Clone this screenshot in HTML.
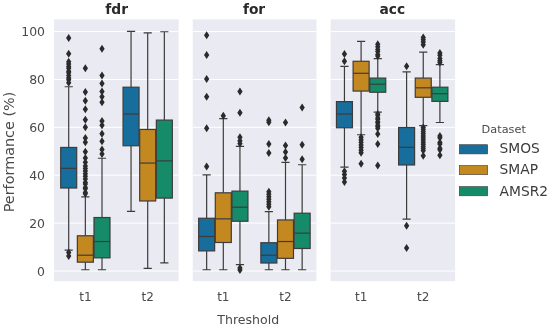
<!DOCTYPE html>
<html><head><meta charset="utf-8"><title>Boxplot</title>
<style>
html,body{margin:0;padding:0;background:#fff;}
body{width:550px;height:328px;position:relative;overflow:hidden;font-family:"DejaVu Sans","Liberation Sans",sans-serif;color:#4a4a4a;}
.t{position:absolute;white-space:nowrap;line-height:1;}
.yt{font-size:12px;text-align:right;width:40px;left:5.0px;transform:scaleX(1.035);transform-origin:right center;}
.xt{font-size:12px;text-align:center;width:40px;}
.ti{font-size:13.8px;font-weight:bold;text-align:center;width:80px;color:#2a2a2a}
.lg{font-size:13.8px;left:499.6px;color:#3c3c3c;}
</style></head><body>
<svg width="550" height="328" viewBox="0 0 550 328" style="position:absolute;left:0;top:0">
<rect x="54.00" y="19.35" width="124.60" height="261.80" fill="#eaeaf2"/>
<line x1="54.00" x2="178.60" y1="271.00" y2="271.00" stroke="#fff" stroke-width="1"/>
<line x1="54.00" x2="178.60" y1="223.11" y2="223.11" stroke="#fff" stroke-width="1"/>
<line x1="54.00" x2="178.60" y1="175.22" y2="175.22" stroke="#fff" stroke-width="1"/>
<line x1="54.00" x2="178.60" y1="127.33" y2="127.33" stroke="#fff" stroke-width="1"/>
<line x1="54.00" x2="178.60" y1="79.44" y2="79.44" stroke="#fff" stroke-width="1"/>
<line x1="54.00" x2="178.60" y1="31.55" y2="31.55" stroke="#fff" stroke-width="1"/>
<path d="M68.70,86.73 V147.45 M68.70,188.01 V250.17 M64.60,86.73 H72.80 M64.60,250.17 H72.80" stroke="#3c3c3c" stroke-width="1.20" fill="none"/><rect x="60.70" y="147.45" width="16.00" height="40.56" fill="#176d9c" stroke="#3c3c3c" stroke-width="1.20"/><line x1="60.70" x2="76.70" y1="168.33" y2="168.33" stroke="#3c3c3c" stroke-width="1.20"/><path d="M68.70,34.01l2.65,4l-2.65,4l-2.65,-4zM68.70,49.85l2.65,4l-2.65,4l-2.65,-4zM68.70,57.77l2.65,4l-2.65,4l-2.65,-4zM68.70,59.93l2.65,4l-2.65,4l-2.65,-4zM68.70,62.57l2.65,4l-2.65,4l-2.65,-4zM68.70,64.25l2.65,4l-2.65,4l-2.65,-4zM68.70,67.13l2.65,4l-2.65,4l-2.65,-4zM68.70,68.81l2.65,4l-2.65,4l-2.65,-4zM68.70,71.45l2.65,4l-2.65,4l-2.65,-4zM68.70,74.09l2.65,4l-2.65,4l-2.65,-4zM68.70,75.77l2.65,4l-2.65,4l-2.65,-4zM68.70,78.65l2.65,4l-2.65,4l-2.65,-4zM68.70,248.57l2.65,4l-2.65,4l-2.65,-4zM68.70,251.93l2.65,4l-2.65,4l-2.65,-4z" fill="#2b2b2b"/>
<path d="M85.35,196.89 V235.77 M85.35,262.17 V269.73 M81.25,196.89 H89.45 M81.25,269.73 H89.45" stroke="#3c3c3c" stroke-width="1.20" fill="none"/><rect x="77.35" y="235.77" width="16.00" height="26.40" fill="#c38820" stroke="#3c3c3c" stroke-width="1.20"/><line x1="77.35" x2="93.35" y1="255.21" y2="255.21" stroke="#3c3c3c" stroke-width="1.20"/><path d="M85.35,64.25l2.65,4l-2.65,4l-2.65,-4zM85.35,88.01l2.65,4l-2.65,4l-2.65,-4zM85.35,96.65l2.65,4l-2.65,4l-2.65,-4zM85.35,105.29l2.65,4l-2.65,4l-2.65,-4zM85.35,115.85l2.65,4l-2.65,4l-2.65,-4zM85.35,123.29l2.65,4l-2.65,4l-2.65,-4zM85.35,134.09l2.65,4l-2.65,4l-2.65,-4zM85.35,138.17l2.65,4l-2.65,4l-2.65,-4zM85.35,147.77l2.65,4l-2.65,4l-2.65,-4zM85.35,154.01l2.65,4l-2.65,4l-2.65,-4zM85.35,158.33l2.65,4l-2.65,4l-2.65,-4zM85.35,161.93l2.65,4l-2.65,4l-2.65,-4zM85.35,164.52l2.65,4l-2.65,4l-2.65,-4zM85.35,167.11l2.65,4l-2.65,4l-2.65,-4zM85.35,169.71l2.65,4l-2.65,4l-2.65,-4zM85.35,172.30l2.65,4l-2.65,4l-2.65,-4zM85.35,174.89l2.65,4l-2.65,4l-2.65,-4zM85.35,178.49l2.65,4l-2.65,4l-2.65,-4zM85.35,179.93l2.65,4l-2.65,4l-2.65,-4zM85.35,183.53l2.65,4l-2.65,4l-2.65,-4zM85.35,184.73l2.65,4l-2.65,4l-2.65,-4zM85.35,188.57l2.65,4l-2.65,4l-2.65,-4zM85.35,189.77l2.65,4l-2.65,4l-2.65,-4z" fill="#2b2b2b"/>
<path d="M102.00,158.25 V217.53 M102.00,257.85 V269.73 M97.90,158.25 H106.10 M97.90,269.73 H106.10" stroke="#3c3c3c" stroke-width="1.20" fill="none"/><rect x="94.00" y="217.53" width="16.00" height="40.32" fill="#158b6a" stroke="#3c3c3c" stroke-width="1.20"/><line x1="94.00" x2="110.00" y1="241.53" y2="241.53" stroke="#3c3c3c" stroke-width="1.20"/><path d="M102.00,44.81l2.65,4l-2.65,4l-2.65,-4zM102.00,71.45l2.65,4l-2.65,4l-2.65,-4zM102.00,79.61l2.65,4l-2.65,4l-2.65,-4zM102.00,87.53l2.65,4l-2.65,4l-2.65,-4zM102.00,92.81l2.65,4l-2.65,4l-2.65,-4zM102.00,98.33l2.65,4l-2.65,4l-2.65,-4zM102.00,117.05l2.65,4l-2.65,4l-2.65,-4zM102.00,121.13l2.65,4l-2.65,4l-2.65,-4zM102.00,129.77l2.65,4l-2.65,4l-2.65,-4zM102.00,137.21l2.65,4l-2.65,4l-2.65,-4zM102.00,145.61l2.65,4l-2.65,4l-2.65,-4zM102.00,149.93l2.65,4l-2.65,4l-2.65,-4z" fill="#2b2b2b"/>
<path d="M131.05,31.29 V87.21 M131.05,145.77 V211.41 M126.95,31.29 H135.15 M126.95,211.41 H135.15" stroke="#3c3c3c" stroke-width="1.20" fill="none"/><rect x="123.05" y="87.21" width="16.00" height="58.56" fill="#176d9c" stroke="#3c3c3c" stroke-width="1.20"/><line x1="123.05" x2="139.05" y1="114.09" y2="114.09" stroke="#3c3c3c" stroke-width="1.20"/>
<path d="M147.70,32.97 V129.45 M147.70,200.97 V268.41 M143.60,32.97 H151.80 M143.60,268.41 H151.80" stroke="#3c3c3c" stroke-width="1.20" fill="none"/><rect x="139.70" y="129.45" width="16.00" height="71.52" fill="#c38820" stroke="#3c3c3c" stroke-width="1.20"/><line x1="139.70" x2="155.70" y1="163.05" y2="163.05" stroke="#3c3c3c" stroke-width="1.20"/>
<path d="M164.35,31.77 V120.09 M164.35,198.09 V262.89 M160.25,31.77 H168.45 M160.25,262.89 H168.45" stroke="#3c3c3c" stroke-width="1.20" fill="none"/><rect x="156.35" y="120.09" width="16.00" height="78.00" fill="#158b6a" stroke="#3c3c3c" stroke-width="1.20"/><line x1="156.35" x2="172.35" y1="160.89" y2="160.89" stroke="#3c3c3c" stroke-width="1.20"/>
<rect x="192.75" y="19.35" width="123.70" height="261.80" fill="#eaeaf2"/>
<line x1="192.75" x2="316.45" y1="271.00" y2="271.00" stroke="#fff" stroke-width="1"/>
<line x1="192.75" x2="316.45" y1="223.11" y2="223.11" stroke="#fff" stroke-width="1"/>
<line x1="192.75" x2="316.45" y1="175.22" y2="175.22" stroke="#fff" stroke-width="1"/>
<line x1="192.75" x2="316.45" y1="127.33" y2="127.33" stroke="#fff" stroke-width="1"/>
<line x1="192.75" x2="316.45" y1="79.44" y2="79.44" stroke="#fff" stroke-width="1"/>
<line x1="192.75" x2="316.45" y1="31.55" y2="31.55" stroke="#fff" stroke-width="1"/>
<path d="M206.65,174.81 V218.25 M206.65,250.89 V269.73 M202.55,174.81 H210.75 M202.55,269.73 H210.75" stroke="#3c3c3c" stroke-width="1.20" fill="none"/><rect x="198.65" y="218.25" width="16.00" height="32.64" fill="#176d9c" stroke="#3c3c3c" stroke-width="1.20"/><line x1="198.65" x2="214.65" y1="236.49" y2="236.49" stroke="#3c3c3c" stroke-width="1.20"/><path d="M206.65,31.13l2.65,4l-2.65,4l-2.65,-4zM206.65,51.05l2.65,4l-2.65,4l-2.65,-4zM206.65,75.05l2.65,4l-2.65,4l-2.65,-4zM206.65,92.81l2.65,4l-2.65,4l-2.65,-4zM206.65,124.25l2.65,4l-2.65,4l-2.65,-4zM206.65,162.41l2.65,4l-2.65,4l-2.65,-4z" fill="#2b2b2b"/>
<path d="M223.30,118.65 V192.81 M223.30,242.49 V269.73 M219.20,118.65 H227.40 M219.20,269.73 H227.40" stroke="#3c3c3c" stroke-width="1.20" fill="none"/><rect x="215.30" y="192.81" width="16.00" height="49.68" fill="#c38820" stroke="#3c3c3c" stroke-width="1.20"/><line x1="215.30" x2="231.30" y1="218.85" y2="218.85" stroke="#3c3c3c" stroke-width="1.20"/><path d="M223.30,111.77l2.65,4l-2.65,4l-2.65,-4z" fill="#2b2b2b"/>
<path d="M239.95,146.37 V191.13 M239.95,221.25 V264.69 M235.85,146.37 H244.05 M235.85,264.69 H244.05" stroke="#3c3c3c" stroke-width="1.20" fill="none"/><rect x="231.95" y="191.13" width="16.00" height="30.12" fill="#158b6a" stroke="#3c3c3c" stroke-width="1.20"/><line x1="231.95" x2="247.95" y1="207.21" y2="207.21" stroke="#3c3c3c" stroke-width="1.20"/><path d="M239.95,87.41l2.65,4l-2.65,4l-2.65,-4zM239.95,108.65l2.65,4l-2.65,4l-2.65,-4zM239.95,133.37l2.65,4l-2.65,4l-2.65,-4zM239.95,136.73l2.65,4l-2.65,4l-2.65,-4zM239.95,139.61l2.65,4l-2.65,4l-2.65,-4zM239.95,263.93l2.65,4l-2.65,4l-2.65,-4zM239.95,266.09l2.65,4l-2.65,4l-2.65,-4z" fill="#2b2b2b"/>
<path d="M268.85,211.65 V242.73 M268.85,263.01 V269.73 M264.75,211.65 H272.95 M264.75,269.73 H272.95" stroke="#3c3c3c" stroke-width="1.20" fill="none"/><rect x="260.85" y="242.73" width="16.00" height="20.28" fill="#176d9c" stroke="#3c3c3c" stroke-width="1.20"/><line x1="260.85" x2="276.85" y1="255.21" y2="255.21" stroke="#3c3c3c" stroke-width="1.20"/><path d="M268.85,116.33l2.65,4l-2.65,4l-2.65,-4zM268.85,118.25l2.65,4l-2.65,4l-2.65,-4zM268.85,140.09l2.65,4l-2.65,4l-2.65,-4zM268.85,148.97l2.65,4l-2.65,4l-2.65,-4zM268.85,187.85l2.65,4l-2.65,4l-2.65,-4zM268.85,190.33l2.65,4l-2.65,4l-2.65,-4zM268.85,192.81l2.65,4l-2.65,4l-2.65,-4zM268.85,195.29l2.65,4l-2.65,4l-2.65,-4zM268.85,197.77l2.65,4l-2.65,4l-2.65,-4zM268.85,200.25l2.65,4l-2.65,4l-2.65,-4zM268.85,202.73l2.65,4l-2.65,4l-2.65,-4z" fill="#2b2b2b"/>
<path d="M285.50,162.33 V219.93 M285.50,258.33 V269.73 M281.40,162.33 H289.60 M281.40,269.73 H289.60" stroke="#3c3c3c" stroke-width="1.20" fill="none"/><rect x="277.50" y="219.93" width="16.00" height="38.40" fill="#c38820" stroke="#3c3c3c" stroke-width="1.20"/><line x1="277.50" x2="293.50" y1="241.53" y2="241.53" stroke="#3c3c3c" stroke-width="1.20"/><path d="M285.50,118.49l2.65,4l-2.65,4l-2.65,-4zM285.50,141.53l2.65,4l-2.65,4l-2.65,-4zM285.50,148.01l2.65,4l-2.65,4l-2.65,-4zM285.50,154.01l2.65,4l-2.65,4l-2.65,-4z" fill="#2b2b2b"/>
<path d="M302.15,164.73 V213.21 M302.15,248.49 V269.73 M298.05,164.73 H306.25 M298.05,269.73 H306.25" stroke="#3c3c3c" stroke-width="1.20" fill="none"/><rect x="294.15" y="213.21" width="16.00" height="35.28" fill="#158b6a" stroke="#3c3c3c" stroke-width="1.20"/><line x1="294.15" x2="310.15" y1="233.13" y2="233.13" stroke="#3c3c3c" stroke-width="1.20"/><path d="M302.15,103.61l2.65,4l-2.65,4l-2.65,-4zM302.15,140.81l2.65,4l-2.65,4l-2.65,-4zM302.15,155.21l2.65,4l-2.65,4l-2.65,-4z" fill="#2b2b2b"/>
<rect x="330.60" y="19.35" width="124.50" height="261.80" fill="#eaeaf2"/>
<line x1="330.60" x2="455.10" y1="271.00" y2="271.00" stroke="#fff" stroke-width="1"/>
<line x1="330.60" x2="455.10" y1="223.11" y2="223.11" stroke="#fff" stroke-width="1"/>
<line x1="330.60" x2="455.10" y1="175.22" y2="175.22" stroke="#fff" stroke-width="1"/>
<line x1="330.60" x2="455.10" y1="127.33" y2="127.33" stroke="#fff" stroke-width="1"/>
<line x1="330.60" x2="455.10" y1="79.44" y2="79.44" stroke="#fff" stroke-width="1"/>
<line x1="330.60" x2="455.10" y1="31.55" y2="31.55" stroke="#fff" stroke-width="1"/>
<path d="M344.45,66.33 V101.61 M344.45,127.77 V167.13 M340.35,66.33 H348.55 M340.35,167.13 H348.55" stroke="#3c3c3c" stroke-width="1.20" fill="none"/><rect x="336.45" y="101.61" width="16.00" height="26.16" fill="#176d9c" stroke="#3c3c3c" stroke-width="1.20"/><line x1="336.45" x2="352.45" y1="114.09" y2="114.09" stroke="#3c3c3c" stroke-width="1.20"/><path d="M344.45,50.09l2.65,4l-2.65,4l-2.65,-4zM344.45,57.29l2.65,4l-2.65,4l-2.65,-4zM344.45,167.21l2.65,4l-2.65,4l-2.65,-4zM344.45,170.57l2.65,4l-2.65,4l-2.65,-4zM344.45,173.93l2.65,4l-2.65,4l-2.65,-4zM344.45,178.01l2.65,4l-2.65,4l-2.65,-4z" fill="#2b2b2b"/>
<path d="M361.10,41.37 V61.29 M361.10,91.05 V134.73 M357.00,41.37 H365.20 M357.00,134.73 H365.20" stroke="#3c3c3c" stroke-width="1.20" fill="none"/><rect x="353.10" y="61.29" width="16.00" height="29.76" fill="#c38820" stroke="#3c3c3c" stroke-width="1.20"/><line x1="353.10" x2="369.10" y1="73.29" y2="73.29" stroke="#3c3c3c" stroke-width="1.20"/><path d="M361.10,133.13l2.65,4l-2.65,4l-2.65,-4zM361.10,135.73l2.65,4l-2.65,4l-2.65,-4zM361.10,138.33l2.65,4l-2.65,4l-2.65,-4zM361.10,140.93l2.65,4l-2.65,4l-2.65,-4zM361.10,143.53l2.65,4l-2.65,4l-2.65,-4zM361.10,146.13l2.65,4l-2.65,4l-2.65,-4zM361.10,148.73l2.65,4l-2.65,4l-2.65,-4zM361.10,159.77l2.65,4l-2.65,4l-2.65,-4z" fill="#2b2b2b"/>
<path d="M377.75,58.65 V78.09 M377.75,92.25 V112.17 M373.65,58.65 H381.85 M373.65,112.17 H381.85" stroke="#3c3c3c" stroke-width="1.20" fill="none"/><rect x="369.75" y="78.09" width="16.00" height="14.16" fill="#158b6a" stroke="#3c3c3c" stroke-width="1.20"/><line x1="369.75" x2="385.75" y1="84.21" y2="84.21" stroke="#3c3c3c" stroke-width="1.20"/><path d="M377.75,40.25l2.65,4l-2.65,4l-2.65,-4zM377.75,42.65l2.65,4l-2.65,4l-2.65,-4zM377.75,45.53l2.65,4l-2.65,4l-2.65,-4zM377.75,47.45l2.65,4l-2.65,4l-2.65,-4zM377.75,50.57l2.65,4l-2.65,4l-2.65,-4zM377.75,52.01l2.65,4l-2.65,4l-2.65,-4zM377.75,110.09l2.65,4l-2.65,4l-2.65,-4zM377.75,111.29l2.65,4l-2.65,4l-2.65,-4zM377.75,113.93l2.65,4l-2.65,4l-2.65,-4zM377.75,115.13l2.65,4l-2.65,4l-2.65,-4zM377.75,117.77l2.65,4l-2.65,4l-2.65,-4zM377.75,118.73l2.65,4l-2.65,4l-2.65,-4zM377.75,121.13l2.65,4l-2.65,4l-2.65,-4zM377.75,122.57l2.65,4l-2.65,4l-2.65,-4zM377.75,124.25l2.65,4l-2.65,4l-2.65,-4zM377.75,130.01l2.65,4l-2.65,4l-2.65,-4zM377.75,140.09l2.65,4l-2.65,4l-2.65,-4zM377.75,161.45l2.65,4l-2.65,4l-2.65,-4z" fill="#2b2b2b"/>
<path d="M406.60,71.97 V127.53 M406.60,164.97 V219.21 M402.50,71.97 H410.70 M402.50,219.21 H410.70" stroke="#3c3c3c" stroke-width="1.20" fill="none"/><rect x="398.60" y="127.53" width="16.00" height="37.44" fill="#176d9c" stroke="#3c3c3c" stroke-width="1.20"/><line x1="398.60" x2="414.60" y1="147.33" y2="147.33" stroke="#3c3c3c" stroke-width="1.20"/><path d="M406.60,62.33l2.65,4l-2.65,4l-2.65,-4zM406.60,221.69l2.65,4l-2.65,4l-2.65,-4zM406.60,244.01l2.65,4l-2.65,4l-2.65,-4z" fill="#2b2b2b"/>
<path d="M423.25,52.17 V78.09 M423.25,97.29 V125.61 M419.15,52.17 H427.35 M419.15,125.61 H427.35" stroke="#3c3c3c" stroke-width="1.20" fill="none"/><rect x="415.25" y="78.09" width="16.00" height="19.20" fill="#c38820" stroke="#3c3c3c" stroke-width="1.20"/><line x1="415.25" x2="431.25" y1="87.81" y2="87.81" stroke="#3c3c3c" stroke-width="1.20"/><path d="M423.25,33.53l2.65,4l-2.65,4l-2.65,-4zM423.25,35.69l2.65,4l-2.65,4l-2.65,-4zM423.25,38.09l2.65,4l-2.65,4l-2.65,-4zM423.25,40.73l2.65,4l-2.65,4l-2.65,-4zM423.25,123.53l2.65,4l-2.65,4l-2.65,-4zM423.25,125.62l2.65,4l-2.65,4l-2.65,-4zM423.25,127.72l2.65,4l-2.65,4l-2.65,-4zM423.25,129.81l2.65,4l-2.65,4l-2.65,-4zM423.25,131.91l2.65,4l-2.65,4l-2.65,-4zM423.25,134.00l2.65,4l-2.65,4l-2.65,-4zM423.25,136.10l2.65,4l-2.65,4l-2.65,-4zM423.25,138.19l2.65,4l-2.65,4l-2.65,-4zM423.25,140.29l2.65,4l-2.65,4l-2.65,-4zM423.25,142.38l2.65,4l-2.65,4l-2.65,-4zM423.25,144.48l2.65,4l-2.65,4l-2.65,-4zM423.25,146.57l2.65,4l-2.65,4l-2.65,-4zM423.25,151.85l2.65,4l-2.65,4l-2.65,-4z" fill="#2b2b2b"/>
<path d="M439.90,64.65 V87.21 M439.90,101.37 V122.49 M435.80,64.65 H444.00 M435.80,122.49 H444.00" stroke="#3c3c3c" stroke-width="1.20" fill="none"/><rect x="431.90" y="87.21" width="16.00" height="14.16" fill="#158b6a" stroke="#3c3c3c" stroke-width="1.20"/><line x1="431.90" x2="447.90" y1="93.69" y2="93.69" stroke="#3c3c3c" stroke-width="1.20"/><path d="M439.90,48.89l2.65,4l-2.65,4l-2.65,-4zM439.90,51.29l2.65,4l-2.65,4l-2.65,-4zM439.90,54.41l2.65,4l-2.65,4l-2.65,-4zM439.90,56.81l2.65,4l-2.65,4l-2.65,-4zM439.90,58.49l2.65,4l-2.65,4l-2.65,-4zM439.90,131.93l2.65,4l-2.65,4l-2.65,-4zM439.90,133.85l2.65,4l-2.65,4l-2.65,-4zM439.90,138.41l2.65,4l-2.65,4l-2.65,-4zM439.90,140.09l2.65,4l-2.65,4l-2.65,-4zM439.90,144.17l2.65,4l-2.65,4l-2.65,-4zM439.90,145.85l2.65,4l-2.65,4l-2.65,-4zM439.90,151.37l2.65,4l-2.65,4l-2.65,-4z" fill="#2b2b2b"/>
<rect x="459.3" y="144.70" width="28.4" height="9.2" fill="#176d9c" stroke="#3c3c3c" stroke-width="0.6"/>
<rect x="459.3" y="165.50" width="28.4" height="9.2" fill="#c38820" stroke="#3c3c3c" stroke-width="0.6"/>
<rect x="459.3" y="186.60" width="28.4" height="9.2" fill="#158b6a" stroke="#3c3c3c" stroke-width="0.6"/>
</svg>
<div class="t yt" style="top:265.65px">0</div>
<div class="t yt" style="top:217.65px">20</div>
<div class="t yt" style="top:169.65px">40</div>
<div class="t yt" style="top:121.65px">60</div>
<div class="t yt" style="top:73.65px">80</div>
<div class="t yt" style="top:25.65px">100</div>
<div class="t xt" style="left:65.35px;top:291.3px">t1</div>
<div class="t xt" style="left:127.70px;top:291.3px">t2</div>
<div class="t ti" style="left:76.65px;top:2.6px">fdr</div>
<div class="t xt" style="left:203.30px;top:291.3px">t1</div>
<div class="t xt" style="left:265.50px;top:291.3px">t2</div>
<div class="t ti" style="left:214.05px;top:2.6px">for</div>
<div class="t xt" style="left:341.10px;top:291.3px">t1</div>
<div class="t xt" style="left:403.25px;top:291.3px">t2</div>
<div class="t ti" style="left:352.35px;top:2.6px">acc</div>
<div class="t" style="font-size:12.55px;left:217.3px;top:313.6px">Threshold</div>
<div class="t" style="font-size:14.4px;left:9.1px;top:151.5px;transform:translate(-50%,-50%) rotate(-90deg);transform-origin:center">Performance (%)</div>
<div class="t" style="font-size:11.3px;left:481.6px;top:124.4px">Dataset</div>
<div class="t lg" style="top:142.00px">SMOS</div>
<div class="t lg" style="top:162.90px">SMAP</div>
<div class="t lg" style="top:184.60px">AMSR2</div>
</body></html>
